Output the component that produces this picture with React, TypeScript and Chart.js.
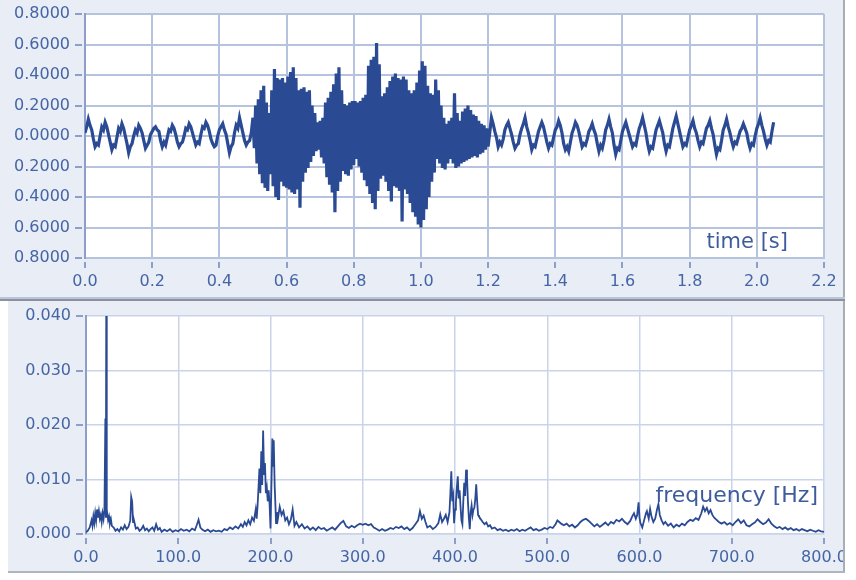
import React, { useEffect, useRef } from "react";
import { Chart, registerables } from "chart.js";

Chart.register(...registerables);

// ---------- axis ticks ----------
const timeTicks = [0, 0.2, 0.4, 0.6, 0.8, 1.0, 1.2, 1.4, 1.6, 1.8, 2.0, 2.2];
const amplitudeTicks = [-0.8, -0.6, -0.4, -0.2, 0, 0.2, 0.4, 0.6, 0.8];
const frequencyTicks = [0, 100, 200, 300, 400, 500, 600, 700, 800];
const magnitudeTicks = [0, 0.01, 0.02, 0.03, 0.04];

// ---------- time signal ----------
// quiet lead-in, t = 0.000 .. 0.495 s, every 0.005 s
const leadStart = 0;
const leadStep = 0.005;
const leadSignal = [
  0.02, 0.06, 0.11, 0.07, 0.04, -0.02, -0.07, -0.05, -0.06, 0.00,
  0.06, 0.04, 0.09, 0.06, 0.01, -0.04, -0.09, -0.06, -0.07, -0.01,
  0.05, 0.03, 0.08, 0.05, 0.00, -0.05, -0.11, -0.07, -0.05, 0.00,
  0.04, 0.02, 0.07, 0.05, 0.02, -0.03, -0.08, -0.06, -0.04, 0.01,
  0.03, 0.05, 0.06, 0.04, 0.03, -0.03, -0.07, -0.04, -0.06, -0.01,
  0.04, 0.03, 0.07, 0.05, 0.01, -0.04, -0.07, -0.05, -0.04, 0.00,
  0.05, 0.04, 0.08, 0.06, 0.02, -0.02, -0.06, -0.04, -0.05, 0.01,
  0.06, 0.05, 0.09, 0.07, 0.03, -0.02, -0.05, -0.07, -0.06, 0.00,
  0.04, 0.06, 0.08, 0.04, 0.01, -0.05, -0.11, -0.07, -0.05, 0.02,
  0.07, 0.05, 0.12, 0.07, 0.02, -0.03, -0.06, -0.04, -0.03, 0.02,
];

// burst, t = 0.500 .. 1.200 s, every 0.004 s (alternating crest / trough)
const burstStart = 0.5;
const burstStep = 0.004;
const burstSignal = [
  0.12, -0.08, 0.20, -0.18, 0.24, -0.25, 0.30, -0.31, 0.33, -0.34, 0.22, -0.36, 0.15, -0.25, 0.30, -0.33,
  0.44, -0.40, 0.38, -0.42, 0.37, -0.30, 0.38, -0.33, 0.35, -0.34, 0.39, -0.35, 0.42, -0.37, 0.45, -0.38,
  0.38, -0.35, 0.30, -0.47, 0.31, -0.30, 0.32, -0.24, 0.29, -0.21, 0.30, -0.17, 0.20, -0.13, 0.15, -0.10,
  0.09, -0.09, 0.10, -0.14, 0.12, -0.18, 0.22, -0.27, 0.25, -0.32, 0.29, -0.37, 0.34, -0.50, 0.41, -0.36,
  0.45, -0.30, 0.30, -0.23, 0.21, -0.25, 0.20, -0.26, 0.22, -0.22, 0.23, -0.19, 0.23, -0.15, 0.22, -0.20,
  0.23, -0.24, 0.25, -0.29, 0.27, -0.33, 0.46, -0.38, 0.50, -0.44, 0.52, -0.48, 0.61, -0.36, 0.47, -0.28,
  0.26, -0.26, 0.28, -0.30, 0.32, -0.36, 0.36, -0.43, 0.39, -0.33, 0.41, -0.34, 0.38, -0.36, 0.37, -0.56,
  0.39, -0.35, 0.37, -0.38, 0.30, -0.44, 0.28, -0.50, 0.30, -0.53, 0.35, -0.58, 0.43, -0.60, 0.49, -0.55,
  0.46, -0.48, 0.33, -0.40, 0.28, -0.30, 0.27, -0.24, 0.37, -0.15, 0.30, -0.18, 0.20, -0.21, 0.12, -0.22,
  0.08, -0.18, 0.10, -0.15, 0.12, -0.18, 0.28, -0.21, 0.15, -0.20, 0.10, -0.18, 0.16, -0.17, 0.18, -0.16,
  0.20, -0.15, 0.17, -0.14, 0.14, -0.13, 0.13, -0.14, 0.10, -0.12, 0.08, -0.11, 0.07, -0.09, 0.05, -0.07,
];

// quiet tail, t = 1.210 .. 2.050 s, every 0.005 s
const tailStart = 1.21;
const tailStep = 0.005;
const tailSignal = [
  0.12, 0.08, 0.03, -0.01, -0.07, -0.04, -0.06, -0.02, 0.04, 0.07,
  0.09, 0.05, 0.01, -0.04, -0.08, -0.06, -0.05, 0.01, 0.05, 0.08,
  0.12, 0.06, 0.02, -0.03, -0.09, -0.06, -0.07, -0.02, 0.03, 0.06,
  0.09, 0.06, 0.01, -0.04, -0.08, -0.05, -0.06, -0.01, 0.04, 0.06,
  0.10, 0.07, 0.02, -0.05, -0.09, -0.07, -0.10, -0.04, 0.02, 0.05,
  0.09, 0.07, 0.03, -0.02, -0.07, -0.05, -0.06, -0.02, 0.03, 0.05,
  0.08, 0.04, 0.01, -0.05, -0.10, -0.06, -0.08, -0.03, 0.04, 0.07,
  0.11, 0.06, 0.02, -0.06, -0.12, -0.08, -0.09, -0.03, 0.03, 0.06,
  0.09, 0.05, 0.01, -0.03, -0.07, -0.05, -0.06, 0.00, 0.05, 0.08,
  0.12, 0.07, 0.02, -0.05, -0.10, -0.07, -0.08, -0.02, 0.04, 0.07,
  0.10, 0.06, 0.02, -0.05, -0.10, -0.06, -0.07, -0.01, 0.05, 0.09,
  0.13, 0.08, 0.03, -0.02, -0.07, -0.05, -0.06, -0.01, 0.04, 0.07,
  0.10, 0.05, 0.02, -0.03, -0.07, -0.04, -0.05, 0.00, 0.05, 0.07,
  0.10, 0.05, 0.01, -0.06, -0.12, -0.08, -0.09, -0.03, 0.04, 0.07,
  0.11, 0.06, 0.02, -0.03, -0.07, -0.04, -0.05, -0.01, 0.03, 0.05,
  0.08, 0.05, 0.02, -0.04, -0.08, -0.05, -0.06, 0.00, 0.05, 0.08,
  0.12, 0.07, 0.03, -0.02, -0.06, -0.03, -0.04, 0.03, 0.09,
];

// ---------- spectrum (frequency [Hz], magnitude) ----------
const spectrumPoints: [number, number][] = [
  [0, 0.0003], [2, 0.0006], [4, 0.0012], [6, 0.0025], [7, 0.0015], [8, 0.0032], [9, 0.002], [10, 0.0038],
  [11, 0.0025], [12, 0.0045], [13, 0.003], [14, 0.0042], [15, 0.0028], [16, 0.0035], [17, 0.0022], [18, 0.0038],
  [19, 0.0028], [20, 0.0045], [21, 0.0212], [21.5, 0.003], [22, 0.045], [22.5, 0.003], [23, 0.0038], [24, 0.0025],
  [25, 0.0032], [26, 0.002], [27, 0.0027], [28, 0.0015], [30, 0.0012], [32, 0.0006], [34, 0.0009], [36, 0.0005],
  [38, 0.0012], [40, 0.0008], [42, 0.0016], [44, 0.0009], [46, 0.0013], [48, 0.0025], [49, 0.0068], [50, 0.006],
  [51, 0.0022], [52, 0.0025], [54, 0.001], [56, 0.0012], [58, 0.0006], [60, 0.0009], [62, 0.0015], [64, 0.0007],
  [66, 0.001], [68, 0.0005], [70, 0.0009], [72, 0.0012], [74, 0.0006], [76, 0.0018], [78, 0.0008], [80, 0.0011],
  [82, 0.0004], [85, 0.0008], [88, 0.0005], [91, 0.0009], [94, 0.0004], [97, 0.0007], [100, 0.0005], [103, 0.0009],
  [106, 0.0006], [109, 0.0008], [112, 0.0005], [115, 0.001], [118, 0.0007], [120, 0.0016], [122, 0.0026], [124, 0.0012],
  [126, 0.0008], [129, 0.0005], [132, 0.0008], [135, 0.0004], [138, 0.0007], [141, 0.0005], [144, 0.0006], [147, 0.0004],
  [150, 0.0009], [153, 0.0007], [156, 0.0012], [159, 0.0009], [162, 0.0014], [165, 0.001], [168, 0.0018], [170, 0.0013],
  [172, 0.0022], [174, 0.0016], [176, 0.0025], [178, 0.0018], [180, 0.003], [182, 0.0024], [184, 0.0045], [185, 0.0028],
  [186, 0.0052], [187, 0.0085], [188, 0.012], [189, 0.0075], [190, 0.0152], [191, 0.009], [192, 0.019], [193, 0.011],
  [194, 0.013], [195, 0.0075], [196, 0.0085], [197, 0.006], [198, 0.008], [199, 0.0055], [200, 0.001], [201, 0.009],
  [202, 0.0175], [203, 0.0125], [203.5, 0.0172], [204.5, 0.009], [205.5, 0.0045], [206, 0.002], [207, 0.004], [208, 0.0028],
  [210, 0.005], [212, 0.0035], [214, 0.0042], [216, 0.0025], [218, 0.003], [220, 0.0018], [222, 0.0026], [224, 0.0045],
  [226, 0.0015], [228, 0.0022], [231, 0.0012], [234, 0.0018], [237, 0.001], [240, 0.0014], [243, 0.0008], [246, 0.0012],
  [249, 0.0007], [252, 0.0013], [255, 0.0009], [258, 0.0011], [261, 0.0006], [264, 0.0009], [267, 0.0012], [270, 0.0008],
  [273, 0.0014], [276, 0.002], [279, 0.0024], [282, 0.0014], [285, 0.0011], [288, 0.0015], [291, 0.0012], [294, 0.0016],
  [297, 0.0019], [300, 0.0017], [303, 0.0019], [306, 0.0016], [309, 0.0018], [312, 0.0012], [315, 0.0009], [318, 0.0006],
  [321, 0.0009], [324, 0.0006], [327, 0.0008], [330, 0.0011], [333, 0.0009], [336, 0.0013], [339, 0.0011], [342, 0.0014],
  [345, 0.0009], [348, 0.0012], [351, 0.0007], [354, 0.0011], [357, 0.0018], [360, 0.0025], [362, 0.0042], [364, 0.0028],
  [366, 0.0034], [368, 0.0022], [370, 0.0012], [373, 0.0015], [376, 0.0009], [379, 0.0013], [382, 0.002], [384, 0.0036],
  [386, 0.0022], [388, 0.0028], [390, 0.0035], [392, 0.0022], [394, 0.004], [395, 0.0075], [396, 0.0115], [397, 0.006],
  [398, 0.007], [399, 0.002], [400, 0.0045], [401, 0.0058], [402, 0.0085], [403, 0.0106], [404, 0.0065], [405, 0.008],
  [406, 0.005], [407, 0.0025], [408, 0.0018], [409, 0.006], [410, 0.0094], [411, 0.007], [412, 0.0118], [413, 0.0105],
  [414, 0.006], [415, 0.003], [416, 0.0009], [417, 0.004], [418, 0.0052], [419, 0.0035], [420, 0.0045], [421, 0.0048],
  [422, 0.0065], [423, 0.0091], [424, 0.006], [425, 0.0035], [426, 0.0032], [428, 0.0027], [430, 0.0022], [432, 0.0018],
  [434, 0.0021], [436, 0.0014], [438, 0.0016], [440, 0.001], [443, 0.0012], [446, 0.0007], [449, 0.0009], [452, 0.0006],
  [455, 0.0008], [458, 0.0005], [461, 0.0008], [464, 0.0006], [467, 0.0009], [470, 0.0005], [473, 0.0008], [476, 0.0006],
  [479, 0.0009], [482, 0.0012], [485, 0.0007], [488, 0.0009], [491, 0.0006], [494, 0.0008], [497, 0.0011], [500, 0.0009],
  [503, 0.0013], [506, 0.0011], [509, 0.0018], [511, 0.0025], [513, 0.0022], [515, 0.0019], [518, 0.0016], [521, 0.0019],
  [524, 0.0014], [527, 0.0017], [530, 0.0012], [533, 0.0016], [536, 0.0022], [539, 0.0026], [542, 0.0028], [545, 0.0024],
  [548, 0.0019], [551, 0.0014], [554, 0.0018], [557, 0.0013], [560, 0.0017], [563, 0.0021], [566, 0.0016], [569, 0.0022],
  [572, 0.0019], [575, 0.0026], [578, 0.0023], [581, 0.0028], [584, 0.0022], [587, 0.0018], [590, 0.0024], [592, 0.0032],
  [594, 0.0038], [596, 0.0028], [597.5, 0.0035], [599, 0.0058], [600, 0.003], [601, 0.002], [603, 0.0012], [605, 0.0025],
  [607, 0.0038], [608, 0.0042], [610, 0.0028], [611.5, 0.0046], [613, 0.0032], [615, 0.0022], [617, 0.0028], [619, 0.0045],
  [620.5, 0.0055], [622, 0.0035], [624, 0.0025], [626, 0.0018], [628, 0.0022], [631, 0.0015], [634, 0.0019], [637, 0.0012],
  [640, 0.0017], [643, 0.0014], [646, 0.0019], [649, 0.0016], [652, 0.0022], [655, 0.0026], [658, 0.0024], [661, 0.0029],
  [664, 0.0026], [667, 0.0038], [669, 0.005], [671, 0.0042], [673, 0.0048], [675, 0.0038], [677, 0.0044], [679, 0.0035],
  [681, 0.003], [683, 0.0027], [686, 0.0022], [689, 0.0019], [692, 0.0022], [695, 0.0017], [698, 0.002], [701, 0.0016],
  [704, 0.0022], [707, 0.0027], [710, 0.002], [713, 0.0025], [716, 0.0016], [719, 0.0014], [722, 0.0018], [725, 0.0021],
  [728, 0.0027], [731, 0.0022], [734, 0.0018], [737, 0.0021], [740, 0.0027], [743, 0.0019], [746, 0.0014], [749, 0.0011],
  [752, 0.0013], [755, 0.0009], [758, 0.0012], [761, 0.0008], [764, 0.0011], [767, 0.0007], [770, 0.0009], [773, 0.0006],
  [776, 0.0009], [779, 0.0007], [782, 0.0005], [785, 0.0008], [788, 0.0006], [791, 0.0004], [794, 0.0007], [797, 0.0005],
  [800, 0.0004],
];

// ---------- styling ----------
const FONT = "'DejaVu Sans', Verdana, sans-serif";
const LINE_COLOR = "#2a4a94";
const LABEL_COLOR = "#4565a5";
const PANEL_BG = "#e8edf6";

const toPoints = (start: number, step: number, vals: number[]) =>
  vals.map((v, i) => ({ x: +(start + i * step).toFixed(4), y: v }));

const signalPoints = [
  ...toPoints(leadStart, leadStep, leadSignal),
  ...toPoints(burstStart, burstStep, burstSignal),
  ...toPoints(tailStart, tailStep, tailSignal),
];
const spectrumData = spectrumPoints.map(([f, a]) => ({ x: f, y: a }));

const framePlugin = {
  id: "frame",
  beforeDraw(chart: any) {
    const { ctx, chartArea: a } = chart;
    ctx.save();
    ctx.fillStyle = "#ffffff";
    ctx.fillRect(a.left, a.top, a.right - a.left, a.bottom - a.top);
    ctx.restore();
  },
  afterDraw(chart: any, _args: any, opts: any) {
    const { ctx, chartArea: a, scales } = chart;
    ctx.save();
    ctx.strokeStyle = opts.tickColor;
    ctx.lineWidth = 2;
    scales.x.ticks.forEach((t: any) => {
      const px = Math.round(scales.x.getPixelForValue(t.value));
      ctx.beginPath();
      ctx.moveTo(px, a.bottom + 4);
      ctx.lineTo(px, a.bottom + 10);
      ctx.stroke();
    });
    scales.y.ticks.forEach((t: any) => {
      const py = Math.round(scales.y.getPixelForValue(t.value));
      ctx.beginPath();
      ctx.moveTo(a.left - 10, py);
      ctx.lineTo(a.left - 3, py);
      ctx.stroke();
    });
    ctx.font = opts.captionFont;
    ctx.fillStyle = opts.captionColor;
    ctx.textAlign = "right";
    ctx.textBaseline = "alphabetic";
    ctx.fillText(opts.caption, a.right - opts.captionRight, a.bottom - opts.captionBottom);
    ctx.restore();
  },
};

function makeConfig(p: {
  data: { x: number; y: number }[];
  xTicks: number[];
  yTicks: number[];
  xFmt: (v: number) => string;
  yFmt: (v: number) => string;
  yWidth: number;
  xHeight: number;
  padTop: number;
  padRight: number;
  lineWidth: number;
  gridColor: string;
  gridWidth: number;
  caption: string;
  captionFont: string;
  captionRight: number;
  captionBottom: number;
}): any {
  return {
    type: "line",
    data: {
      datasets: [
        {
          data: p.data,
          borderColor: LINE_COLOR,
          borderWidth: p.lineWidth,
          pointRadius: 0,
          tension: 0,
          fill: false,
          borderJoinStyle: "miter",
        },
      ],
    },
    options: {
      animation: false,
      responsive: false,
      devicePixelRatio: 1,
      events: [],
      layout: { padding: { top: p.padTop, right: p.padRight, left: 0, bottom: 0 } },
      plugins: {
        legend: { display: false },
        tooltip: { enabled: false },
        frame: {
          tickColor: "#8d9fc9",
          caption: p.caption,
          captionFont: p.captionFont,
          captionColor: "#3e5c9c",
          captionRight: p.captionRight,
          captionBottom: p.captionBottom,
        },
      },
      scales: {
        x: {
          type: "linear",
          min: p.xTicks[0],
          max: p.xTicks[p.xTicks.length - 1],
          afterBuildTicks: (s: any) => {
            s.ticks = p.xTicks.map((v) => ({ value: v }));
          },
          afterFit: (s: any) => {
            s.height = p.xHeight;
            s.paddingLeft = 0;
            s.paddingRight = 0;
          },
          grid: { color: p.gridColor, lineWidth: p.gridWidth, drawTicks: false },
          border: { display: true, color: p.gridColor, width: p.gridWidth },
          ticks: {
            autoSkip: false,
            maxRotation: 0,
            padding: 14,
            color: LABEL_COLOR,
            font: { family: FONT, size: 16 },
            callback: (v: any) => p.xFmt(Number(v)),
          },
        },
        y: {
          type: "linear",
          min: p.yTicks[0],
          max: p.yTicks[p.yTicks.length - 1],
          afterBuildTicks: (s: any) => {
            s.ticks = p.yTicks.map((v) => ({ value: v }));
          },
          afterFit: (s: any) => {
            s.width = p.yWidth;
            s.paddingTop = 0;
            s.paddingBottom = 0;
          },
          grid: { color: p.gridColor, lineWidth: p.gridWidth, drawTicks: false },
          border: { display: true, color: "#8d9fc9", width: 2 },
          ticks: {
            autoSkip: false,
            padding: 15,
            color: LABEL_COLOR,
            font: { family: FONT, size: 16 },
            callback: (v: any) => p.yFmt(Number(v)),
          },
        },
      },
    },
    plugins: [framePlugin],
  };
}

export default function App() {
  const topRef = useRef<HTMLCanvasElement | null>(null);
  const bottomRef = useRef<HTMLCanvasElement | null>(null);

  useEffect(() => {
    document.body.style.margin = "0";
    const top = new Chart(
      topRef.current as HTMLCanvasElement,
      makeConfig({
        data: signalPoints,
        xTicks: timeTicks,
        yTicks: amplitudeTicks,
        xFmt: (v) => v.toFixed(1),
        yFmt: (v) => Math.abs(v).toFixed(4),
        yWidth: 85,
        xHeight: 39,
        padTop: 14,
        padRight: 19,
        lineWidth: 3.2,
        gridColor: "#b6c3df",
        gridWidth: 2,
        caption: "time [s]",
        captionFont: `21px ${FONT}`,
        captionRight: 36,
        captionBottom: 10,
      })
    );
    const bottom = new Chart(
      bottomRef.current as HTMLCanvasElement,
      makeConfig({
        data: spectrumData,
        xTicks: frequencyTicks,
        yTicks: magnitudeTicks,
        xFmt: (v) => v.toFixed(1),
        yFmt: (v) => v.toFixed(3),
        yWidth: 78,
        xHeight: 37,
        padTop: 15,
        padRight: 19,
        lineWidth: 1.8,
        gridColor: "#c9d3ea",
        gridWidth: 1.5,
        caption: "frequency [Hz]",
        captionFont: `22px ${FONT}`,
        captionRight: 6,
        captionBottom: 32,
      })
    );
    return () => {
      top.destroy();
      bottom.destroy();
    };
  }, []);

  return (
    <div style={{ position: "relative", width: 856, height: 580, background: "#ffffff", overflow: "hidden" }}>
      <div style={{ position: "absolute", left: 0, top: 0, width: 843, height: 297, background: PANEL_BG }}>
        <canvas ref={topRef} width={843} height={297} style={{ display: "block" }} />
      </div>
      <div style={{ position: "absolute", left: 843, top: 0, width: 2, height: 301, background: "#a8adb6" }} />
      <div style={{ position: "absolute", left: 0, top: 297, width: 845, height: 2, background: "#b9c5dd" }} />
      <div style={{ position: "absolute", left: 0, top: 299, width: 845, height: 2, background: "#8e9198" }} />
      <div style={{ position: "absolute", left: 8, top: 301, width: 835, height: 270, background: PANEL_BG }}>
        <canvas ref={bottomRef} width={835} height={270} style={{ display: "block" }} />
      </div>
      <div style={{ position: "absolute", left: 843, top: 301, width: 2, height: 272, background: "#a8adb6" }} />
      <div style={{ position: "absolute", left: 8, top: 571, width: 837, height: 2, background: "#b0b4bc" }} />
    </div>
  );
}
